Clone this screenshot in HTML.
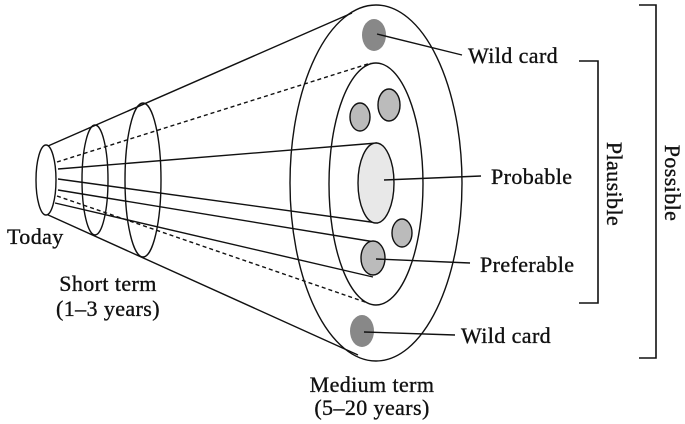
<!DOCTYPE html>
<html><head><meta charset="utf-8"><style>body{margin:0;background:#fff}svg{display:block}text{font-family:"Liberation Serif",serif;font-size:22px;letter-spacing:0.4px;fill:#111;stroke:#111;stroke-width:0.35}</style></head><body>
<svg width="685" height="424" viewBox="0 0 685 424" xmlns="http://www.w3.org/2000/svg">
<g stroke="#111" stroke-width="1.4" fill="none">
<line x1="48" y1="146" x2="352" y2="13"/>
<line x1="46" y1="214" x2="358" y2="355"/>
<line x1="57" y1="162" x2="371" y2="63" stroke-dasharray="4,3"/>
<line x1="57" y1="196" x2="368" y2="303" stroke-dasharray="4,3"/>
<line x1="58" y1="169" x2="377" y2="143"/>
<line x1="58" y1="179" x2="378" y2="223"/>
<line x1="58" y1="190" x2="375" y2="242"/>
<line x1="55" y1="203" x2="373" y2="277"/>
<ellipse cx="46" cy="180" rx="10" ry="35" fill="#fff"/>
<ellipse cx="95" cy="180" rx="13" ry="55"/>
<ellipse cx="143" cy="180" rx="18" ry="77"/>
<ellipse cx="376" cy="183" rx="86" ry="178"/>
<ellipse cx="376" cy="184" rx="47" ry="121"/>
<ellipse cx="376" cy="183" rx="18" ry="40" fill="#e8e8e8"/>
<ellipse cx="360" cy="117" rx="10" ry="14" fill="#bbb"/>
<ellipse cx="389" cy="105" rx="11" ry="16" fill="#bbb"/>
<ellipse cx="402" cy="233" rx="10" ry="14" fill="#bbb"/>
<ellipse cx="373" cy="258" rx="12" ry="17" fill="#bbb"/>
<ellipse cx="374" cy="35" rx="12" ry="16" fill="#888" stroke="none"/>
<ellipse cx="362" cy="331" rx="12" ry="16" fill="#888" stroke="none"/>
<line x1="377" y1="34" x2="462" y2="55"/>
<line x1="384" y1="180" x2="481" y2="176"/>
<line x1="376" y1="259" x2="470" y2="263"/>
<line x1="364" y1="332" x2="455" y2="335"/>
<polyline points="579,61 598,61 598,303 579,303" stroke-width="1.6"/>
<polyline points="639,5 656,5 656,358 639,358" stroke-width="1.6"/>
</g>
<text x="468" y="63">Wild card</text>
<text x="491" y="184">Probable</text>
<text x="480" y="272">Preferable</text>
<text x="461" y="343">Wild card</text>
<text x="7" y="244">Today</text>
<text x="108" y="291" text-anchor="middle">Short term</text>
<text x="108" y="316" text-anchor="middle">(1–3 years)</text>
<text x="372" y="392" text-anchor="middle">Medium term</text>
<text x="372" y="415" text-anchor="middle">(5–20 years)</text>
<text transform="translate(607,184) rotate(90)" text-anchor="middle">Plausible</text>
<text transform="translate(665,183) rotate(90)" text-anchor="middle">Possible</text>
</svg>
</body></html>
